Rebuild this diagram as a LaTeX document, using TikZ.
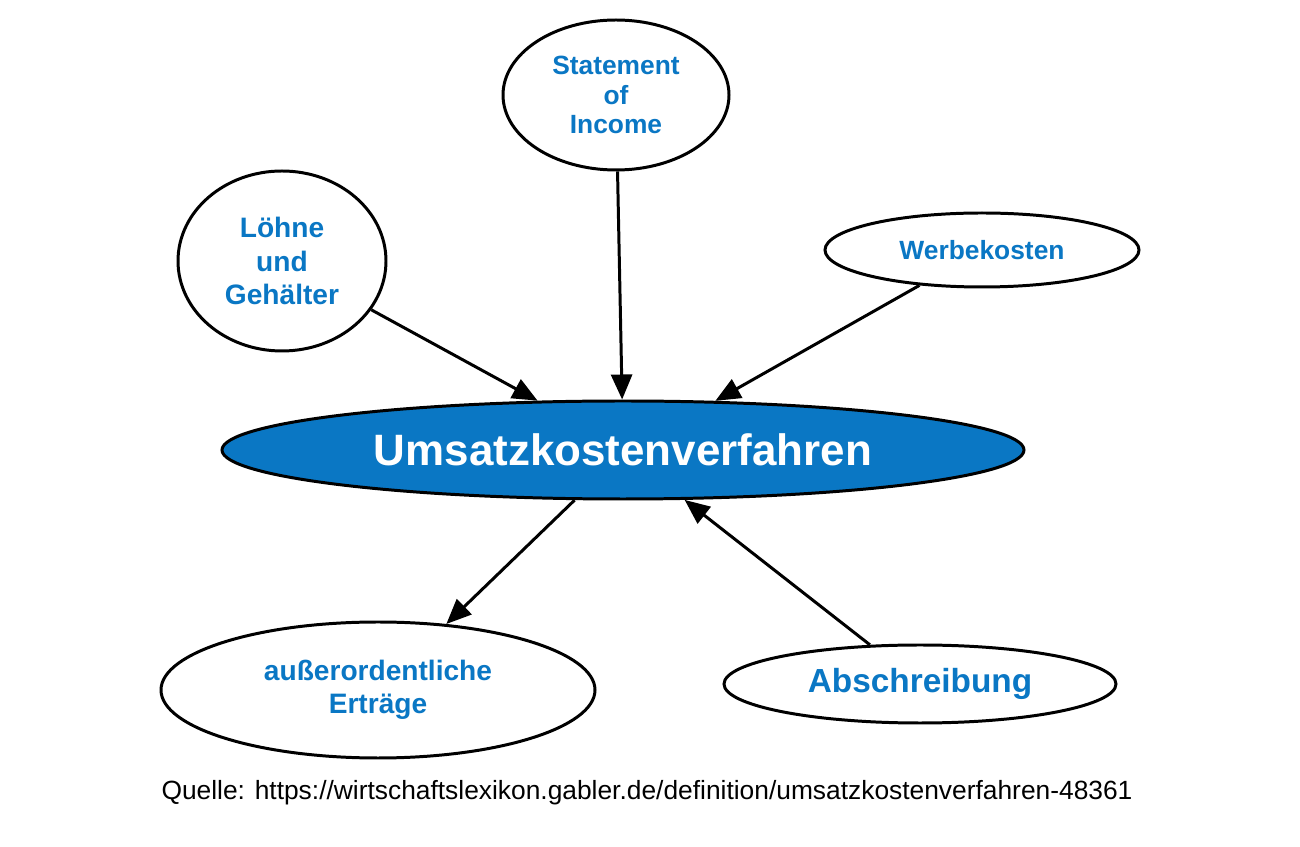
\documentclass[tikz,border=0pt]{standalone}
\usepackage{fontspec}
\setmainfont{Liberation Sans}
\usetikzlibrary{shapes.geometric,arrows.meta}
\definecolor{gablerblue}{HTML}{0A77C4}

\begin{document}
\begin{tikzpicture}[
    term/.style={ellipse,draw,line width=1.7pt,fill=white,inner sep=0pt,align=center,
      text=gablerblue,font=\bfseries\fontsize{15}{17}\selectfont},
    link/.style={line width=1.7pt,-{Triangle[length=0.5cm,width=0.42cm]}}
    ]
  \useasboundingbox (0,0) rectangle (26,16.94);

  \node(main) [term,fill=gablerblue,text=white,minimum width=16.04cm,minimum height=1.96cm,
    font=\bfseries\fontsize{25}{28}\selectfont] at (12.46,7.94) {Umsatzkostenverfahren};

  \node(income) [term,minimum width=4.52cm,minimum height=3cm] at (12.32,15.04) {Statement\\of\\Income};
  \node(wages) [term,minimum width=4.16cm,minimum height=3.6cm,
    font=\bfseries\fontsize{16}{19}\selectfont] at (5.64,11.72) {Löhne\\und\\Gehälter};
  \node(ads) [term,minimum width=6.28cm,minimum height=1.48cm] at (19.64,11.94) {Werbekosten};
  \node(extra) [term,minimum width=8.68cm,minimum height=2.72cm,
    font=\bfseries\fontsize{16}{19}\selectfont] at (7.56,3.14) {außerordentliche\\Erträge};
  \node(depr) [term,minimum width=7.84cm,minimum height=1.56cm,
    font=\bfseries\fontsize{19}{22}\selectfont] at (18.4,3.26) {Abschreibung};

  \draw[link] (wages) -- (main.150.8);
  \draw[link] (income) -- (main.91);
  \draw[link] (ads) -- (main.28.3);
  \draw[link] (main.226) -- (extra);
  \draw[link] (depr) -- (main.321);

  \node(source) at (12.94,1.08) {\fontsize{15}{18}\selectfont Quelle: https://wirtschaftslexikon.gabler.de/definition/umsatzkostenverfahren-48361};

\end{tikzpicture}
\end{document}
